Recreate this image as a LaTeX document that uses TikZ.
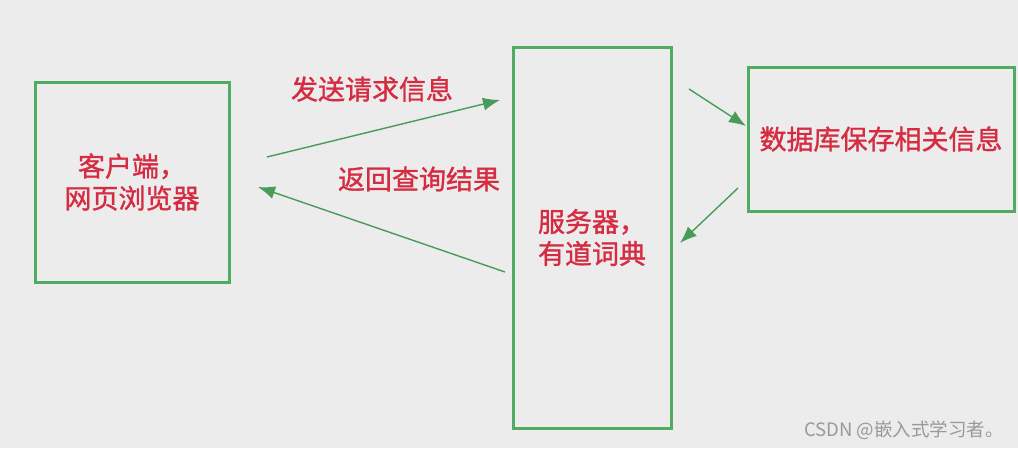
\documentclass[tikz,border=0pt]{standalone}
\usepackage{fontspec}
\setmainfont{Noto Sans CJK SC}
\newfontfamily\labelfont[FakeBold=1.2]{Noto Sans CJK SC}
\usetikzlibrary{arrows.meta}

\definecolor{boxgreen}{RGB}{80,172,98}
\definecolor{txtred}{RGB}{214,44,66}
\definecolor{paper}{RGB}{236,236,236}

\tikzset{
  box/.style={draw=boxgreen, line width=3pt, inner sep=0pt, align=center,
    text=txtred, font=\labelfont\fontsize{27}{32}\selectfont},
  flow/.style={boxgreen!90!black, line width=1.4pt, -{Latex[length=17pt,width=13pt]}},
  msg/.style={text=txtred, font=\labelfont\fontsize{27}{32}\selectfont, inner sep=0pt}
}

\begin{document}
\begin{tikzpicture}[x=1pt, y=-1pt]

  \fill[paper] (0,0) rectangle (1018,448);
  \useasboundingbox (0,0) rectangle (1018,448);

  % the three parties
  \node[box, minimum width=194pt, minimum height=200pt] (client) at (132,182)
    {客户端，\\网页浏览器};
  \node[box, minimum width=158pt, minimum height=381pt] (server) at (592,237.5)
    {服务器，\\有道词典};
  \node[box, minimum width=266pt, minimum height=144pt] (db) at (881,139)
    {数据库保存相关信息};

  % free ends of the arrows
  \coordinate (reqS) at (267,157);
  \coordinate (reqE) at (500,100);
  \coordinate (resS) at (505,272);
  \coordinate (resE) at (258,187);
  \coordinate (saveS) at (689,89);
  \coordinate (saveE) at (746,126);
  \coordinate (backS) at (738,188);
  \coordinate (backE) at (680,243);

  \draw[flow] (reqS) -- (reqE);
  \draw[flow] (resS) -- (resE);
  \draw[flow] (saveS) -- (saveE);
  \draw[flow] (backS) -- (backE);

  \node[msg] (reqtxt) at (372,89) {发送请求信息};
  \node[msg] (restxt) at (419,179) {返回查询结果};

  \node[text=black!40, font=\fontsize{18.5}{20}\selectfont, inner sep=0pt] (mark) at (904,430)
    {CSDN @嵌入式学习者。};

\end{tikzpicture}
\end{document}
